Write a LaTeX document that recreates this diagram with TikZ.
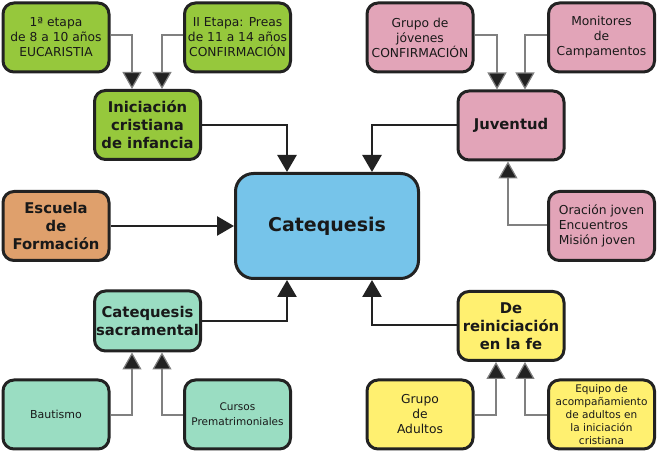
\documentclass[tikz,border=0pt]{standalone}
\usepackage{fontspec}
\setmainfont{DejaVu Sans}
\usetikzlibrary{arrows.meta}
\definecolor{cgreen}{HTML}{96C83C}
\definecolor{cpink}{HTML}{E2A4B8}
\definecolor{cyellow}{HTML}{FFF070}
\definecolor{cteal}{HTML}{9ADDC2}
\definecolor{corange}{HTML}{DFA06C}
\definecolor{cblue}{HTML}{76C4EA}
\definecolor{cedge}{HTML}{222222}
\tikzset{
 box/.style={draw=cedge,line width=3pt,rounded corners=11pt,inner sep=0pt,align=center,text=black!90},
 small/.style={box,font=\fontsize{12.3}{15}\selectfont},
 big/.style={box,font=\fontsize{14.8}{18}\selectfont\bfseries},
 thin/.style={draw=gray,line width=1.2pt,-{Triangle[width=19pt,length=17pt,fill=cedge]}},
 thick/.style={draw=cedge,line width=2.6pt,-{Triangle[width=19pt,length=17pt]}},
}
\begin{document}
\begin{tikzpicture}[x=1pt,y=-1pt]
\useasboundingbox (0,0) rectangle (657,454);
\node[small,fill=cgreen,minimum width=106,minimum height=69] (a) at (56,37.5) {1ª etapa\\de 8 a 10 años\\EUCARISTIA};
\node[small,fill=cgreen,minimum width=106,minimum height=69] (b) at (237.5,37.5) {II Etapa: Preas\\de 11 a 14 años\\CONFIRMACIÓN};
\node[big,fill=cgreen,minimum width=106,minimum height=69] (ini) at (147.5,125) {Iniciación\\cristiana\\de infancia};
\node[small,fill=cpink,minimum width=106,minimum height=69] (gj) at (420,37.5) {Grupo de\\jóvenes\\CONFIRMACIÓN};
\node[small,fill=cpink,minimum width=106,minimum height=69] (mon) at (601.5,37.5) {Monitores\\de\\Campamentos};
\node[big,fill=cpink,minimum width=106,minimum height=69] (juv) at (511,125.5) {Juventud};
\node[small,fill=cpink,minimum width=106,minimum height=69,align=left] (ora) at (601.5,226) {Oración joven\\Encuentros\\Misión joven};
\node[big,fill=corange,minimum width=106,minimum height=69] (esc) at (56,226) {Escuela\\de\\Formación};
\node[box,fill=cblue,minimum width=183,minimum height=105,rounded corners=18pt,font=\fontsize{19}{22}\selectfont\bfseries] (cat) at (327,226) {Catequesis};
\node[big,fill=cteal,minimum width=106,minimum height=60] (sac) at (147.5,321) {Catequesis\\sacramental};
\node[small,fill=cteal,minimum width=106,minimum height=69,font=\fontsize{11}{15}\selectfont] (bau) at (56,414.5) {Bautismo};
\node[small,fill=cteal,minimum width=106,minimum height=69,font=\fontsize{10.5}{15}\selectfont] (cur) at (237.5,414.5) {Cursos\\Prematrimoniales};
\node[big,fill=cyellow,minimum width=106,minimum height=69] (rei) at (511,326) {De\\reiniciación\\en la fe};
\node[small,fill=cyellow,minimum width=106,minimum height=69] (gad) at (420,414.5) {Grupo\\de\\Adultos};
\node[small,fill=cyellow,minimum width=106,minimum height=69,font=\fontsize{10.5}{13}\selectfont] (equ) at (601.5,414.5) {Equipo de\\acompañamiento\\de adultos en\\la iniciación\\cristiana};
% thin connectors
\draw[thin] (a.east |- 0,35) -| (132,0 |- ini.north);
\draw[thin] (b.west |- 0,35) -| (162,0 |- ini.north);
\draw[thin] (gj.east |- 0,35) -| (497,0 |- juv.north);
\draw[thin] (mon.west |- 0,35) -| (525,0 |- juv.north);
\draw[thin] (ora.west |- 0,225) -| (508,0 |- juv.south);
\draw[thin] (bau.east |- 0,415) -| (132,0 |- sac.south);
\draw[thin] (cur.west |- 0,415) -| (162,0 |- sac.south);
\draw[thin] (gad.east |- 0,415) -| (496,0 |- rei.south);
\draw[thin] (equ.west |- 0,415) -| (525,0 |- rei.south);
% thick connectors
\draw[thick] (ini.east |- 0,125) -| (287,0 |- cat.north);
\draw[thick] (juv.west |- 0,125) -| (372,0 |- cat.north);
\draw[thick] (esc.east) -- (cat.west |- esc.east);
\draw[thick] (sac.east |- 0,321) -| (287,0 |- cat.south);
\draw[thick] (rei.west |- 0,325) -| (372,0 |- cat.south);
\end{tikzpicture}
\end{document}
